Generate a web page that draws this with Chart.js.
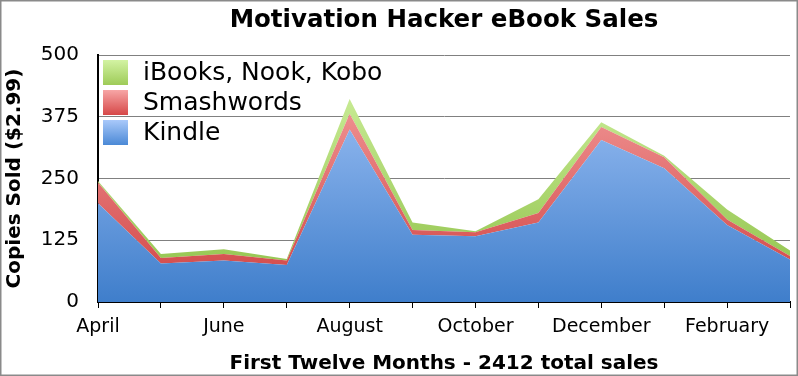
<!DOCTYPE html>
<html>
  <head>
    <meta charset="utf-8">
    <style type="text/css">
      body { margin: 0; background: #fff; }
      .chart-container { width: 798px; height: 376px; }
    </style>
  </head>
  <body>
    <script src="https://cdn.jsdelivr.net/npm/chart.js@4.4.1/dist/chart.umd.min.js"></script>

    <div class="chart-container">
      <canvas id="salesChart" width="798" height="376"></canvas>
    </div>

    <script>
      /* datas */
      const months = ['April', 'May', 'June', 'July', 'August', 'September',
                      'October', 'November', 'December', 'January', 'February', 'March'];
      const kindle     = [200, 78, 84, 75, 349, 136, 133, 161, 328, 271, 156, 86];
      const smashwords = [42, 11, 13, 9, 32, 10, 8, 19, 26, 22, 11, 7];
      const ibooks     = [3, 8, 10, 3, 30, 15, 2, 28, 10, 3, 20, 11];
      const seriesNames = ['Kindle', 'Smashwords', 'iBooks, Nook, Kobo'];
      const yTicks = [0, 125, 250, 375, 500];

      const chartTitle = 'Motivation Hacker eBook Sales';
      const xTitle = 'First Twelve Months - 2412 total sales';
      const yTitle = 'Copies Sold ($2.99)';

      // light (top) / dark (bottom) colours of each area
      const topColors = ['#a9c9fa', '#f7a6a6', '#d3f3a3'];
      const bottomColors = ['#3f7ecb', '#cf4040', '#8cbf45'];
      const swatchBottom = ['#4b89d6', '#d64848', '#9ecb58'];

      const FONT = 'DejaVu Sans';

      function vgrad(ctx, top, bottom, c1, c2) {
        const g = ctx.createLinearGradient(0, top, 0, bottom);
        g.addColorStop(0, c1);
        g.addColorStop(1, c2);
        return g;
      }

      function areaFill(i) {
        return (c) => {
          const a = c.chart.chartArea;
          if (!a) return bottomColors[i];
          return vgrad(c.chart.ctx, a.top, a.bottom, topColors[i], bottomColors[i]);
        };
      }

      // title, legend and frame
      const decor = {
        id: 'decor',
        afterDraw(chart) {
          const ctx = chart.ctx;
          const a = chart.chartArea;
          ctx.save();
          ctx.strokeStyle = '#8a8a8a';
          ctx.lineWidth = 1.5;
          ctx.strokeRect(0.75, 0.75, chart.width - 1.5, chart.height - 1.5);

          ctx.fillStyle = '#000';
          ctx.font = 'bold 24.5px "' + FONT + '"';
          ctx.textAlign = 'center';
          ctx.textBaseline = 'alphabetic';
          ctx.fillText(chartTitle, (a.left + a.right) / 2, 27);

          // legend, last series on top
          ctx.font = '25px "' + FONT + '"';
          ctx.textAlign = 'left';
          ctx.textBaseline = 'middle';
          const n = chart.data.datasets.length;
          for (let k = 0; k < n; k++) {
            const i = n - 1 - k;
            const y = 60 + k * 30;
            ctx.fillStyle = vgrad(ctx, y, y + 25, topColors[i], swatchBottom[i]);
            ctx.fillRect(103, y, 25, 25);
            ctx.fillStyle = '#000';
            ctx.fillText(chart.data.datasets[i].label, 143, y + 13);
          }
          ctx.restore();
        }
      };

      const salesChart = new Chart('salesChart', {
        type: 'line',
        data: {
          labels: months,
          datasets: [
            { label: seriesNames[0], data: kindle, fill: 'origin', backgroundColor: areaFill(0) },
            { label: seriesNames[1], data: smashwords, fill: '-1', backgroundColor: areaFill(1) },
            { label: seriesNames[2], data: ibooks, fill: '-1', backgroundColor: areaFill(2) }
          ]
        },
        options: {
          responsive: false,
          animation: false,
          layout: { padding: { top: 55, right: 6, bottom: 0, left: 0 } },
          elements: {
            line: { tension: 0, borderWidth: 0, borderColor: 'rgba(0,0,0,0)' },
            point: { radius: 0 }
          },
          plugins: {
            legend: { display: false },
            title: { display: false },
            tooltip: { enabled: false }
          },
          scales: {
            x: {
              offset: false,
              afterFit: (s) => { s.height = 74; },
              grid: { drawOnChartArea: false, color: '#000', tickLength: 6 },
              border: { color: '#000', width: 2 },
              ticks: {
                autoSkip: false,
                maxRotation: 0,
                padding: 8,
                color: '#000',
                font: { family: FONT, size: 19 },
                callback: (v, i) => (i % 2 === 0 ? months[i] : '')
              },
              title: {
                display: true,
                text: xTitle,
                color: '#000',
                font: { family: FONT, size: 20, weight: 'bold' },
                padding: { top: 0, bottom: 0 }
              }
            },
            y: {
              stacked: true,
              min: yTicks[0],
              max: yTicks[yTicks.length - 1],
              afterFit: (s) => { s.width = 98; },
              afterBuildTicks: (s) => { s.ticks = yTicks.map(v => ({ value: v })); },
              grid: { color: '#808080', drawTicks: false },
              border: { color: '#000', width: 2 },
              ticks: {
                padding: 19,
                color: '#000',
                font: { family: FONT, size: 20 }
              },
              title: {
                display: true,
                text: yTitle,
                color: '#000',
                font: { family: FONT, size: 20, weight: 'bold' },
                padding: { top: 3, bottom: 0 }
              }
            }
          }
        },
        plugins: [decor]
      });
    </script>
  </body>
</html>
